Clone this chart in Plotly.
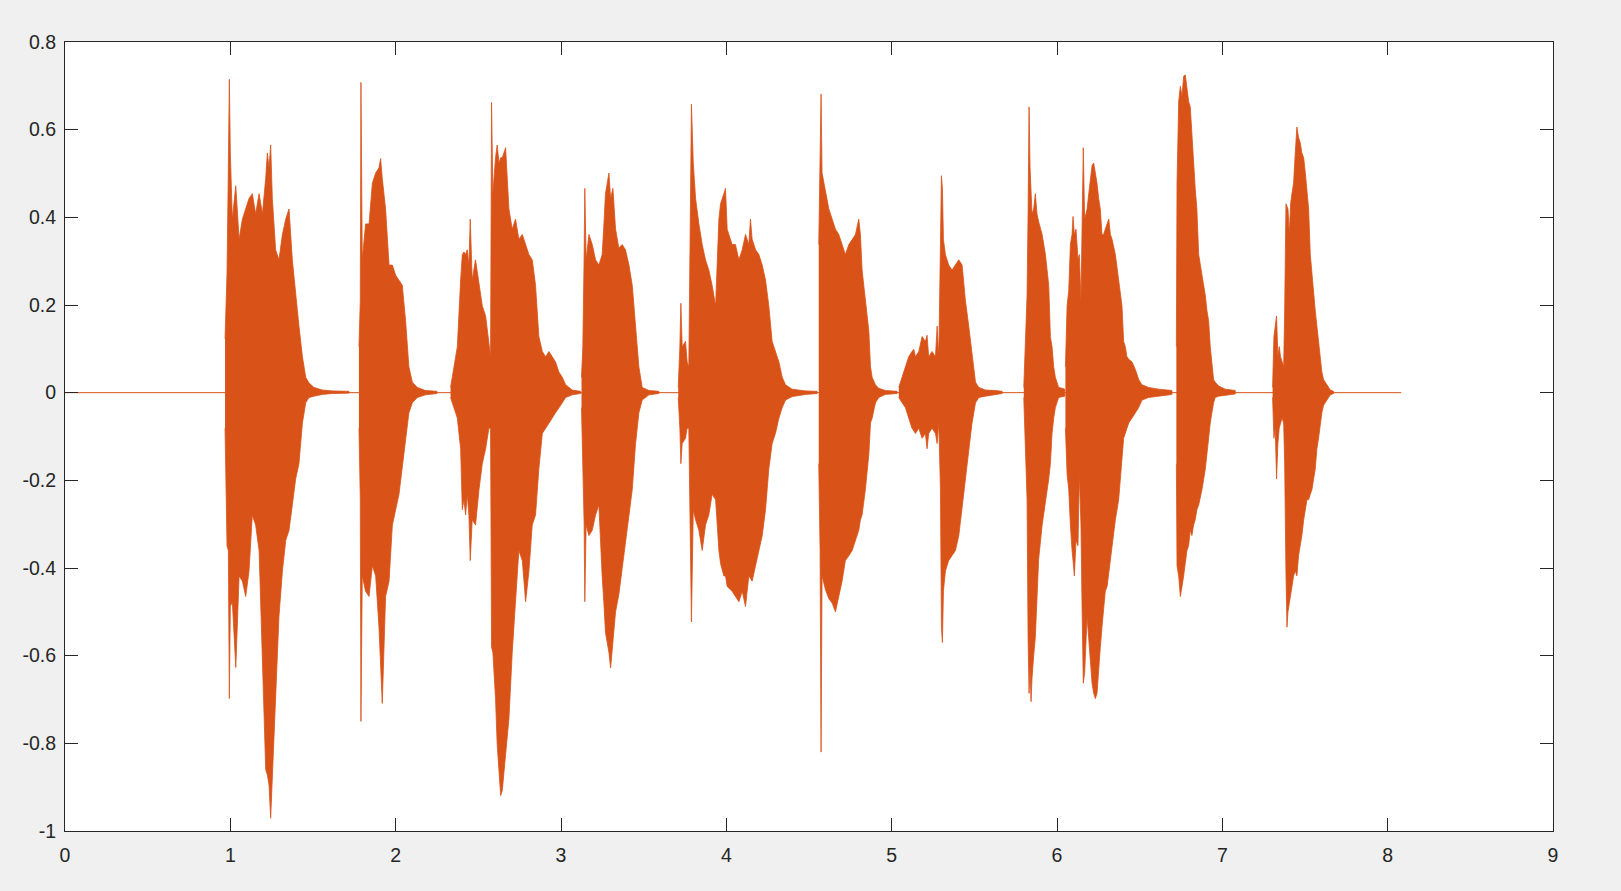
import plotly.graph_objects as go

# ---- data (time in s, amplitude envelopes) ----
SILENCE_T = [0.0, 8.082]
SILENCE_V = [0.0, 0.0]

T1 = [0.968, 0.980, 0.988, 0.994, 1.000, 1.012, 1.033, 1.053, 1.073, 1.093, 1.113, 1.133, 1.153, 1.174, 1.194, 1.214, 1.224, 1.234, 1.244, 1.254, 1.274, 1.294, 1.315, 1.335, 1.355, 1.375, 1.395, 1.415, 1.436, 1.456, 1.476, 1.506, 1.557, 1.617, 1.718]
UP1 = [0.123, 0.274, 0.513, 0.715, 0.547, 0.396, 0.472, 0.350, 0.396, 0.419, 0.443, 0.454, 0.408, 0.454, 0.408, 0.489, 0.547, 0.513, 0.565, 0.443, 0.326, 0.303, 0.361, 0.396, 0.419, 0.303, 0.222, 0.152, 0.082, 0.035, 0.022, 0.012, 0.006, 0.004, 0.003]
LO1 = [-0.081, -0.349, -0.360, -0.698, -0.488, -0.477, -0.627, -0.418, -0.430, -0.465, -0.407, -0.279, -0.302, -0.360, -0.604, -0.860, -0.872, -0.895, -0.971, -0.872, -0.686, -0.511, -0.407, -0.337, -0.314, -0.256, -0.197, -0.162, -0.069, -0.023, -0.011, -0.008, -0.004, -0.002, -0.001]

T2 = [1.778, 1.786, 1.790, 1.798, 1.818, 1.839, 1.859, 1.879, 1.899, 1.909, 1.919, 1.939, 1.960, 1.980, 2.000, 2.020, 2.040, 2.060, 2.080, 2.101, 2.131, 2.180, 2.250]
UP2 = [0.105, 0.210, 0.708, 0.303, 0.385, 0.385, 0.478, 0.501, 0.513, 0.534, 0.489, 0.419, 0.291, 0.291, 0.268, 0.257, 0.245, 0.164, 0.059, 0.024, 0.012, 0.005, 0.003]
LO2 = [-0.081, -0.244, -0.750, -0.418, -0.453, -0.465, -0.395, -0.418, -0.535, -0.628, -0.709, -0.465, -0.430, -0.302, -0.267, -0.232, -0.174, -0.104, -0.046, -0.023, -0.011, -0.005, -0.002]

T3 = [2.332, 2.352, 2.373, 2.393, 2.403, 2.413, 2.423, 2.433, 2.443, 2.451, 2.463, 2.483, 2.504, 2.524, 2.544, 2.564, 2.574, 2.580, 2.588, 2.604, 2.614, 2.625, 2.635, 2.645, 2.665, 2.685, 2.705, 2.725, 2.745, 2.766, 2.786, 2.806, 2.826, 2.846, 2.866, 2.887, 2.907, 2.927, 2.947, 2.967, 2.987, 3.008, 3.028, 3.068, 3.118]
UP3 = [0.012, 0.059, 0.105, 0.257, 0.315, 0.321, 0.315, 0.326, 0.291, 0.396, 0.257, 0.303, 0.245, 0.198, 0.175, 0.105, 0.082, 0.662, 0.454, 0.536, 0.565, 0.524, 0.536, 0.536, 0.559, 0.419, 0.373, 0.396, 0.350, 0.361, 0.338, 0.315, 0.303, 0.245, 0.128, 0.094, 0.082, 0.094, 0.082, 0.070, 0.047, 0.035, 0.018, 0.006, 0.003]
LO3 = [-0.011, -0.034, -0.058, -0.128, -0.267, -0.244, -0.279, -0.232, -0.279, -0.383, -0.290, -0.302, -0.221, -0.162, -0.128, -0.081, -0.081, -0.581, -0.593, -0.698, -0.802, -0.872, -0.919, -0.907, -0.826, -0.744, -0.593, -0.477, -0.360, -0.383, -0.477, -0.407, -0.302, -0.279, -0.174, -0.093, -0.081, -0.069, -0.058, -0.046, -0.034, -0.023, -0.011, -0.005, -0.002]

T4 = [3.124, 3.132, 3.140, 3.144, 3.152, 3.169, 3.189, 3.209, 3.229, 3.249, 3.259, 3.269, 3.290, 3.300, 3.314, 3.330, 3.350, 3.370, 3.390, 3.411, 3.431, 3.451, 3.471, 3.491, 3.532, 3.592]
UP4 = [0.035, 0.105, 0.315, 0.466, 0.303, 0.361, 0.338, 0.303, 0.291, 0.315, 0.380, 0.454, 0.501, 0.443, 0.466, 0.373, 0.330, 0.338, 0.326, 0.291, 0.245, 0.152, 0.059, 0.012, 0.005, 0.003]
LO4 = [-0.034, -0.186, -0.302, -0.477, -0.302, -0.326, -0.314, -0.279, -0.256, -0.418, -0.477, -0.547, -0.593, -0.628, -0.570, -0.500, -0.460, -0.407, -0.349, -0.279, -0.221, -0.116, -0.046, -0.017, -0.005, -0.002]

T5 = [3.709, 3.719, 3.725, 3.733, 3.753, 3.763, 3.773, 3.783, 3.789, 3.800, 3.814, 3.834, 3.854, 3.874, 3.894, 3.914, 3.935, 3.955, 3.965, 3.985, 3.995, 4.005, 4.035, 4.055, 4.076, 4.096, 4.116, 4.136, 4.146, 4.156, 4.177, 4.197, 4.217, 4.237, 4.257, 4.277, 4.297, 4.318, 4.338, 4.358, 4.398, 4.479, 4.549]
UP5 = [0.012, 0.105, 0.204, 0.105, 0.117, 0.070, 0.059, 0.431, 0.658, 0.524, 0.443, 0.385, 0.338, 0.303, 0.280, 0.245, 0.198, 0.396, 0.431, 0.454, 0.466, 0.373, 0.338, 0.338, 0.303, 0.326, 0.361, 0.338, 0.396, 0.350, 0.326, 0.315, 0.291, 0.257, 0.198, 0.117, 0.094, 0.070, 0.035, 0.018, 0.008, 0.004, 0.003]
LO5 = [-0.011, -0.081, -0.162, -0.116, -0.104, -0.081, -0.081, -0.360, -0.523, -0.267, -0.290, -0.314, -0.360, -0.302, -0.279, -0.232, -0.244, -0.360, -0.390, -0.418, -0.418, -0.442, -0.453, -0.465, -0.477, -0.453, -0.488, -0.418, -0.424, -0.430, -0.395, -0.360, -0.326, -0.267, -0.174, -0.116, -0.093, -0.058, -0.034, -0.017, -0.009, -0.004, -0.002]

T6 = [4.559, 4.567, 4.573, 4.579, 4.600, 4.620, 4.640, 4.660, 4.680, 4.700, 4.720, 4.741, 4.761, 4.781, 4.801, 4.811, 4.821, 4.841, 4.862, 4.872, 4.882, 4.902, 4.922, 4.962, 5.033]
UP6 = [0.338, 0.501, 0.681, 0.501, 0.454, 0.419, 0.396, 0.373, 0.361, 0.338, 0.315, 0.338, 0.350, 0.361, 0.396, 0.361, 0.280, 0.210, 0.140, 0.059, 0.035, 0.018, 0.010, 0.005, 0.003]
LO6 = [-0.162, -0.360, -0.820, -0.418, -0.450, -0.470, -0.480, -0.500, -0.465, -0.430, -0.383, -0.372, -0.360, -0.337, -0.314, -0.290, -0.279, -0.221, -0.140, -0.069, -0.058, -0.023, -0.011, -0.004, -0.002]

T7 = [5.043, 5.063, 5.083, 5.103, 5.123, 5.134, 5.144, 5.164, 5.184, 5.204, 5.214, 5.224, 5.244, 5.265, 5.275, 5.285, 5.295, 5.301, 5.307, 5.313, 5.325, 5.345, 5.365, 5.386, 5.406, 5.426, 5.436, 5.446, 5.466, 5.486, 5.507, 5.527, 5.567, 5.627, 5.668]
UP7 = [0.012, 0.035, 0.059, 0.082, 0.094, 0.099, 0.082, 0.094, 0.128, 0.117, 0.131, 0.082, 0.094, 0.082, 0.152, 0.082, 0.338, 0.495, 0.466, 0.350, 0.315, 0.291, 0.280, 0.291, 0.303, 0.291, 0.245, 0.210, 0.152, 0.082, 0.024, 0.012, 0.006, 0.005, 0.003]
LO7 = [-0.011, -0.023, -0.034, -0.058, -0.081, -0.088, -0.093, -0.081, -0.104, -0.093, -0.128, -0.093, -0.081, -0.093, -0.116, -0.069, -0.221, -0.535, -0.570, -0.453, -0.407, -0.383, -0.372, -0.360, -0.326, -0.267, -0.230, -0.197, -0.128, -0.069, -0.023, -0.011, -0.008, -0.004, -0.002]

T8 = [5.799, 5.809, 5.819, 5.825, 5.831, 5.837, 5.843, 5.849, 5.859, 5.869, 5.879, 5.889, 5.910, 5.930, 5.950, 5.960, 5.970, 5.980, 5.990, 6.010, 6.030, 6.047]
UP8 = [0.012, 0.105, 0.222, 0.408, 0.652, 0.513, 0.450, 0.408, 0.419, 0.454, 0.408, 0.390, 0.361, 0.315, 0.245, 0.128, 0.105, 0.059, 0.035, 0.012, 0.010, 0.008]
LO8 = [-0.011, -0.128, -0.244, -0.558, -0.686, -0.628, -0.705, -0.651, -0.600, -0.558, -0.477, -0.380, -0.302, -0.256, -0.197, -0.162, -0.093, -0.058, -0.034, -0.011, -0.009, -0.008]

T9 = [6.051, 6.061, 6.071, 6.081, 6.091, 6.097, 6.105, 6.115, 6.127, 6.135, 6.145, 6.151, 6.159, 6.167, 6.182, 6.192, 6.202, 6.212, 6.222, 6.232, 6.242, 6.252, 6.262, 6.272, 6.282, 6.292, 6.303, 6.313, 6.323, 6.333, 6.353, 6.373, 6.393, 6.403, 6.413, 6.423, 6.434, 6.454, 6.474, 6.494, 6.514, 6.554, 6.615, 6.695]
UP9 = [0.059, 0.198, 0.233, 0.338, 0.361, 0.402, 0.361, 0.373, 0.303, 0.315, 0.210, 0.361, 0.559, 0.396, 0.419, 0.454, 0.489, 0.518, 0.524, 0.501, 0.478, 0.443, 0.419, 0.361, 0.361, 0.373, 0.385, 0.396, 0.361, 0.350, 0.315, 0.257, 0.198, 0.117, 0.105, 0.082, 0.076, 0.070, 0.053, 0.030, 0.018, 0.012, 0.008, 0.005]
LO9 = [-0.081, -0.186, -0.221, -0.302, -0.360, -0.383, -0.418, -0.337, -0.349, -0.186, -0.302, -0.477, -0.663, -0.640, -0.511, -0.570, -0.604, -0.663, -0.686, -0.698, -0.686, -0.640, -0.581, -0.535, -0.488, -0.453, -0.442, -0.407, -0.383, -0.349, -0.290, -0.244, -0.151, -0.104, -0.093, -0.081, -0.069, -0.058, -0.046, -0.034, -0.017, -0.011, -0.008, -0.004]

T10 = [6.722, 6.726, 6.736, 6.746, 6.756, 6.766, 6.776, 6.786, 6.796, 6.806, 6.816, 6.826, 6.836, 6.846, 6.857, 6.877, 6.897, 6.907, 6.917, 6.927, 6.937, 6.947, 6.957, 6.978, 7.018, 7.078]
UP10 = [0.105, 0.478, 0.664, 0.699, 0.676, 0.722, 0.725, 0.687, 0.664, 0.652, 0.582, 0.524, 0.466, 0.419, 0.315, 0.268, 0.222, 0.187, 0.164, 0.105, 0.059, 0.030, 0.024, 0.015, 0.008, 0.005]
LO10 = [-0.162, -0.395, -0.418, -0.465, -0.442, -0.418, -0.395, -0.360, -0.349, -0.314, -0.326, -0.302, -0.290, -0.267, -0.256, -0.221, -0.174, -0.140, -0.104, -0.069, -0.046, -0.023, -0.011, -0.008, -0.005, -0.003]

T11 = [7.304, 7.312, 7.320, 7.328, 7.336, 7.344, 7.352, 7.361, 7.371, 7.377, 7.385, 7.391, 7.397, 7.405, 7.413, 7.421, 7.431, 7.441, 7.451, 7.461, 7.471, 7.481, 7.492, 7.502, 7.512, 7.522, 7.532, 7.542, 7.552, 7.562, 7.572, 7.582, 7.592, 7.602, 7.612, 7.633, 7.653, 7.673]
UP11 = [0.012, 0.128, 0.152, 0.175, 0.082, 0.105, 0.082, 0.070, 0.059, 0.187, 0.431, 0.425, 0.419, 0.361, 0.431, 0.454, 0.478, 0.547, 0.606, 0.582, 0.571, 0.547, 0.536, 0.501, 0.466, 0.419, 0.315, 0.268, 0.222, 0.187, 0.152, 0.117, 0.076, 0.047, 0.030, 0.018, 0.006, 0.003]
LO11 = [-0.011, -0.104, -0.081, -0.197, -0.116, -0.081, -0.069, -0.058, -0.069, -0.162, -0.418, -0.535, -0.500, -0.477, -0.453, -0.442, -0.418, -0.407, -0.418, -0.372, -0.349, -0.326, -0.290, -0.267, -0.244, -0.244, -0.232, -0.221, -0.197, -0.174, -0.128, -0.104, -0.081, -0.046, -0.029, -0.017, -0.005, -0.002]

SEGMENTS = [(T1, UP1, LO1), (T2, UP2, LO2), (T3, UP3, LO3), (T4, UP4, LO4),
            (T5, UP5, LO5), (T6, UP6, LO6), (T7, UP7, LO7), (T8, UP8, LO8),
            (T9, UP9, LO9), (T10, UP10, LO10), (T11, UP11, LO11)]

X_TICKS = [0, 1, 2, 3, 4, 5, 6, 7, 8, 9]
X_TICK_TEXT = ["0", "1", "2", "3", "4", "5", "6", "7", "8", "9"]
Y_TICKS = [-1, -0.8, -0.6, -0.4, -0.2, 0, 0.2, 0.4, 0.6, 0.8]
Y_TICK_TEXT = ["-1", "-0.8", "-0.6", "-0.4", "-0.2", "0", "0.2", "0.4", "0.6", "0.8"]

COLOR = "#D95319"
AX = "#262626"

fig = go.Figure()
fig.add_trace(go.Scatter(x=SILENCE_T, y=SILENCE_V, mode="lines",
                         line=dict(color=COLOR, width=1), showlegend=False, hoverinfo="skip"))
for t, up, lo in SEGMENTS:
    xs = list(t) + list(t)[::-1]
    ys = list(up) + list(lo)[::-1]
    fig.add_trace(go.Scatter(x=xs, y=ys, mode="lines", fill="toself",
                             fillcolor=COLOR, line=dict(color=COLOR, width=0.8),
                             showlegend=False, hoverinfo="skip"))

axis_common = dict(showgrid=False, zeroline=False, showline=True, linecolor=AX, linewidth=1,
                   mirror="ticks", ticks="inside", ticklen=13, tickwidth=1, tickcolor=AX,
                   tickfont=dict(family="Liberation Sans, Arial, sans-serif", size=19.5, color=AX))

fig.update_xaxes(range=[0, 9], tickvals=X_TICKS, ticktext=X_TICK_TEXT,
                 ticklabelstandoff=7, **axis_common)
fig.update_yaxes(range=[-1, 0.8], tickvals=Y_TICKS, ticktext=Y_TICK_TEXT,
                 ticklabelstandoff=4, **axis_common)

fig.update_layout(width=1621, height=891, autosize=False,
                  margin=dict(l=65, r=68, t=42, b=60, pad=0),
                  paper_bgcolor="#F0F0F0", plot_bgcolor="#FFFFFF", showlegend=False)

fig.write_html("out.html", config={"displayModeBar": False},
               post_script="document.body.style.margin='0';document.body.style.overflow='hidden';")
